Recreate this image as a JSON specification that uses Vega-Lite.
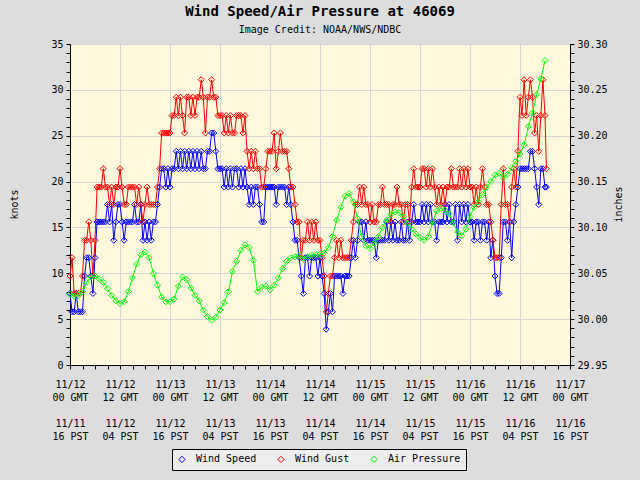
{
  "$schema": "https://vega.github.io/schema/vega-lite/v6.json",
  "width": 640,
  "height": 480,
  "autosize": {"type": "fit", "contains": "padding"},
  "padding": {"left": 9, "top": 5, "right": 17, "bottom": 39},
  "background": "#dddddd",
  "title": {
    "text": "Wind Speed/Air Pressure at 46069",
    "subtitle": "Image Credit: NOAA/NWS/NDBC",
    "anchor": "middle",
    "font": "DejaVu Sans Mono",
    "fontSize": 14,
    "fontWeight": "bold",
    "color": "black",
    "subtitleFont": "DejaVu Sans Mono",
    "subtitleFontSize": 10,
    "subtitleColor": "black",
    "subtitlePadding": 6,
    "offset": 4
  },
  "config": {
    "view": {"fill": "#fff8dc", "stroke": "black", "strokeWidth": 1},
    "axis": {
      "labelFont": "DejaVu Sans Mono",
      "labelFontSize": 10,
      "labelColor": "black",
      "titleFont": "DejaVu Sans Mono",
      "titleFontSize": 10,
      "titleFontWeight": "normal",
      "titleColor": "black",
      "tickColor": "black",
      "domainColor": "black",
      "gridColor": "#d6d6d6"
    },
    "legend": {
      "labelFont": "DejaVu Sans Mono",
      "labelFontSize": 10,
      "labelColor": "black"
    }
  },
  "datasets": {
    "wind": [
      {"t":"2024-11-12T00:00Z","Wind Speed":7.8,"Wind Gust":9.7},
      {"t":"2024-11-12T00:30Z","Wind Speed":5.8,"Wind Gust":11.7},
      {"t":"2024-11-12T01:00Z","Wind Speed":5.8,"Wind Gust":7.8},
      {"t":"2024-11-12T01:30Z","Wind Speed":7.8,"Wind Gust":7.8},
      {"t":"2024-11-12T02:00Z","Wind Speed":5.8,"Wind Gust":7.8},
      {"t":"2024-11-12T02:30Z","Wind Speed":5.8,"Wind Gust":7.8},
      {"t":"2024-11-12T03:00Z","Wind Speed":5.8,"Wind Gust":9.7},
      {"t":"2024-11-12T03:30Z","Wind Speed":9.7,"Wind Gust":13.6},
      {"t":"2024-11-12T04:00Z","Wind Speed":11.7,"Wind Gust":13.6},
      {"t":"2024-11-12T04:30Z","Wind Speed":11.7,"Wind Gust":15.6},
      {"t":"2024-11-12T05:00Z","Wind Speed":9.7,"Wind Gust":13.6},
      {"t":"2024-11-12T05:30Z","Wind Speed":7.8,"Wind Gust":9.7},
      {"t":"2024-11-12T06:00Z","Wind Speed":11.7,"Wind Gust":13.6},
      {"t":"2024-11-12T06:30Z","Wind Speed":15.6,"Wind Gust":19.4},
      {"t":"2024-11-12T07:00Z","Wind Speed":15.6,"Wind Gust":19.4},
      {"t":"2024-11-12T07:30Z","Wind Speed":15.6,"Wind Gust":19.4},
      {"t":"2024-11-12T08:00Z","Wind Speed":15.6,"Wind Gust":21.4},
      {"t":"2024-11-12T08:30Z","Wind Speed":15.6,"Wind Gust":19.4},
      {"t":"2024-11-12T09:00Z","Wind Speed":17.5,"Wind Gust":19.4},
      {"t":"2024-11-12T09:30Z","Wind Speed":15.6,"Wind Gust":17.5},
      {"t":"2024-11-12T10:00Z","Wind Speed":17.5,"Wind Gust":19.4},
      {"t":"2024-11-12T10:30Z","Wind Speed":13.6,"Wind Gust":17.5},
      {"t":"2024-11-12T11:00Z","Wind Speed":15.6,"Wind Gust":19.4},
      {"t":"2024-11-12T11:30Z","Wind Speed":17.5,"Wind Gust":19.4},
      {"t":"2024-11-12T12:00Z","Wind Speed":17.5,"Wind Gust":21.4},
      {"t":"2024-11-12T12:30Z","Wind Speed":15.6,"Wind Gust":19.4},
      {"t":"2024-11-12T13:00Z","Wind Speed":13.6,"Wind Gust":17.5},
      {"t":"2024-11-12T13:30Z","Wind Speed":15.6,"Wind Gust":17.5},
      {"t":"2024-11-12T14:00Z","Wind Speed":15.6,"Wind Gust":19.4},
      {"t":"2024-11-12T14:30Z","Wind Speed":15.6,"Wind Gust":19.4},
      {"t":"2024-11-12T15:00Z","Wind Speed":15.6,"Wind Gust":19.4},
      {"t":"2024-11-12T15:30Z","Wind Speed":17.5,"Wind Gust":19.4},
      {"t":"2024-11-12T16:00Z","Wind Speed":15.6,"Wind Gust":17.5},
      {"t":"2024-11-12T16:30Z","Wind Speed":15.6,"Wind Gust":19.4},
      {"t":"2024-11-12T17:00Z","Wind Speed":17.5,"Wind Gust":17.5},
      {"t":"2024-11-12T17:30Z","Wind Speed":13.6,"Wind Gust":15.6},
      {"t":"2024-11-12T18:00Z","Wind Speed":15.6,"Wind Gust":17.5},
      {"t":"2024-11-12T18:30Z","Wind Speed":13.6,"Wind Gust":19.4},
      {"t":"2024-11-12T19:00Z","Wind Speed":15.6,"Wind Gust":17.5},
      {"t":"2024-11-12T19:30Z","Wind Speed":13.6,"Wind Gust":17.5},
      {"t":"2024-11-12T20:00Z","Wind Speed":15.6,"Wind Gust":17.5},
      {"t":"2024-11-12T20:30Z","Wind Speed":15.6,"Wind Gust":17.5},
      {"t":"2024-11-12T21:00Z","Wind Speed":17.5,"Wind Gust":19.4},
      {"t":"2024-11-12T21:30Z","Wind Speed":19.4,"Wind Gust":21.4},
      {"t":"2024-11-12T22:00Z","Wind Speed":21.4,"Wind Gust":25.3},
      {"t":"2024-11-12T22:30Z","Wind Speed":21.4,"Wind Gust":25.3},
      {"t":"2024-11-12T23:00Z","Wind Speed":19.4,"Wind Gust":25.3},
      {"t":"2024-11-12T23:30Z","Wind Speed":21.4,"Wind Gust":25.3},
      {"t":"2024-11-13T00:00Z","Wind Speed":19.4,"Wind Gust":25.3},
      {"t":"2024-11-13T00:30Z","Wind Speed":21.4,"Wind Gust":27.2},
      {"t":"2024-11-13T01:00Z","Wind Speed":21.4,"Wind Gust":27.2},
      {"t":"2024-11-13T01:30Z","Wind Speed":23.3,"Wind Gust":29.2},
      {"t":"2024-11-13T02:00Z","Wind Speed":21.4,"Wind Gust":27.2},
      {"t":"2024-11-13T02:30Z","Wind Speed":23.3,"Wind Gust":29.2},
      {"t":"2024-11-13T03:00Z","Wind Speed":21.4,"Wind Gust":27.2},
      {"t":"2024-11-13T03:30Z","Wind Speed":23.3,"Wind Gust":25.3},
      {"t":"2024-11-13T04:00Z","Wind Speed":21.4,"Wind Gust":29.2},
      {"t":"2024-11-13T04:30Z","Wind Speed":23.3,"Wind Gust":29.2},
      {"t":"2024-11-13T05:00Z","Wind Speed":21.4,"Wind Gust":27.2},
      {"t":"2024-11-13T05:30Z","Wind Speed":23.3,"Wind Gust":29.2},
      {"t":"2024-11-13T06:00Z","Wind Speed":21.4,"Wind Gust":27.2},
      {"t":"2024-11-13T06:30Z","Wind Speed":23.3,"Wind Gust":29.2},
      {"t":"2024-11-13T07:00Z","Wind Speed":21.4,"Wind Gust":29.2},
      {"t":"2024-11-13T07:30Z","Wind Speed":23.3,"Wind Gust":31.1},
      {"t":"2024-11-13T08:00Z","Wind Speed":21.4,"Wind Gust":29.2},
      {"t":"2024-11-13T08:30Z","Wind Speed":21.4,"Wind Gust":25.3},
      {"t":"2024-11-13T09:00Z","Wind Speed":23.3,"Wind Gust":29.2},
      {"t":"2024-11-13T09:30Z","Wind Speed":23.3,"Wind Gust":29.2},
      {"t":"2024-11-13T10:00Z","Wind Speed":25.3,"Wind Gust":31.1},
      {"t":"2024-11-13T10:30Z","Wind Speed":25.3,"Wind Gust":29.2},
      {"t":"2024-11-13T11:00Z","Wind Speed":23.3,"Wind Gust":29.2},
      {"t":"2024-11-13T11:30Z","Wind Speed":21.4,"Wind Gust":27.2},
      {"t":"2024-11-13T12:00Z","Wind Speed":21.4,"Wind Gust":27.2},
      {"t":"2024-11-13T12:30Z","Wind Speed":21.4,"Wind Gust":27.2},
      {"t":"2024-11-13T13:00Z","Wind Speed":19.4,"Wind Gust":25.3},
      {"t":"2024-11-13T13:30Z","Wind Speed":21.4,"Wind Gust":27.2},
      {"t":"2024-11-13T14:00Z","Wind Speed":19.4,"Wind Gust":25.3},
      {"t":"2024-11-13T14:30Z","Wind Speed":21.4,"Wind Gust":27.2},
      {"t":"2024-11-13T15:00Z","Wind Speed":19.4,"Wind Gust":25.3},
      {"t":"2024-11-13T15:30Z","Wind Speed":21.4,"Wind Gust":25.3},
      {"t":"2024-11-13T16:00Z","Wind Speed":21.4,"Wind Gust":27.2},
      {"t":"2024-11-13T16:30Z","Wind Speed":19.4,"Wind Gust":27.2},
      {"t":"2024-11-13T17:00Z","Wind Speed":21.4,"Wind Gust":27.2},
      {"t":"2024-11-13T17:30Z","Wind Speed":19.4,"Wind Gust":25.3},
      {"t":"2024-11-13T18:00Z","Wind Speed":21.4,"Wind Gust":27.2},
      {"t":"2024-11-13T18:30Z","Wind Speed":19.4,"Wind Gust":23.3},
      {"t":"2024-11-13T19:00Z","Wind Speed":17.5,"Wind Gust":21.4},
      {"t":"2024-11-13T19:30Z","Wind Speed":19.4,"Wind Gust":23.3},
      {"t":"2024-11-13T20:00Z","Wind Speed":17.5,"Wind Gust":21.4},
      {"t":"2024-11-13T20:30Z","Wind Speed":19.4,"Wind Gust":23.3},
      {"t":"2024-11-13T21:00Z","Wind Speed":19.4,"Wind Gust":21.4},
      {"t":"2024-11-13T21:30Z","Wind Speed":17.5,"Wind Gust":21.4},
      {"t":"2024-11-13T22:00Z","Wind Speed":15.6,"Wind Gust":19.4},
      {"t":"2024-11-13T22:30Z","Wind Speed":15.6,"Wind Gust":19.4},
      {"t":"2024-11-13T23:00Z","Wind Speed":19.4,"Wind Gust":21.4},
      {"t":"2024-11-13T23:30Z","Wind Speed":19.4,"Wind Gust":23.3},
      {"t":"2024-11-14T00:00Z","Wind Speed":19.4,"Wind Gust":23.3},
      {"t":"2024-11-14T00:30Z","Wind Speed":19.4,"Wind Gust":23.3},
      {"t":"2024-11-14T01:00Z","Wind Speed":19.4,"Wind Gust":25.3},
      {"t":"2024-11-14T01:30Z","Wind Speed":17.5,"Wind Gust":21.4},
      {"t":"2024-11-14T02:00Z","Wind Speed":19.4,"Wind Gust":23.3},
      {"t":"2024-11-14T02:30Z","Wind Speed":19.4,"Wind Gust":25.3},
      {"t":"2024-11-14T03:00Z","Wind Speed":19.4,"Wind Gust":23.3},
      {"t":"2024-11-14T03:30Z","Wind Speed":19.4,"Wind Gust":23.3},
      {"t":"2024-11-14T04:00Z","Wind Speed":17.5,"Wind Gust":23.3},
      {"t":"2024-11-14T04:30Z","Wind Speed":19.4,"Wind Gust":21.4},
      {"t":"2024-11-14T05:00Z","Wind Speed":17.5,"Wind Gust":19.4},
      {"t":"2024-11-14T05:30Z","Wind Speed":15.6,"Wind Gust":19.4},
      {"t":"2024-11-14T06:00Z","Wind Speed":13.6,"Wind Gust":17.5},
      {"t":"2024-11-14T06:30Z","Wind Speed":13.6,"Wind Gust":15.6},
      {"t":"2024-11-14T07:00Z","Wind Speed":11.7,"Wind Gust":15.6},
      {"t":"2024-11-14T07:30Z","Wind Speed":9.7,"Wind Gust":11.7},
      {"t":"2024-11-14T08:00Z","Wind Speed":7.8,"Wind Gust":13.6},
      {"t":"2024-11-14T08:30Z","Wind Speed":11.7,"Wind Gust":13.6},
      {"t":"2024-11-14T09:00Z","Wind Speed":11.7,"Wind Gust":15.6},
      {"t":"2024-11-14T09:30Z","Wind Speed":9.7,"Wind Gust":13.6},
      {"t":"2024-11-14T10:00Z","Wind Speed":11.7,"Wind Gust":15.6},
      {"t":"2024-11-14T10:30Z","Wind Speed":11.7,"Wind Gust":13.6},
      {"t":"2024-11-14T11:00Z","Wind Speed":11.7,"Wind Gust":15.6},
      {"t":"2024-11-14T11:30Z","Wind Speed":9.7,"Wind Gust":13.6},
      {"t":"2024-11-14T12:00Z","Wind Speed":11.7,"Wind Gust":13.6},
      {"t":"2024-11-14T12:30Z","Wind Speed":9.7,"Wind Gust":11.7},
      {"t":"2024-11-14T13:00Z","Wind Speed":7.8,"Wind Gust":9.7},
      {"t":"2024-11-14T13:30Z","Wind Speed":3.9,"Wind Gust":5.8},
      {"t":"2024-11-14T14:00Z","Wind Speed":5.8,"Wind Gust":7.8},
      {"t":"2024-11-14T14:30Z","Wind Speed":7.8,"Wind Gust":9.7},
      {"t":"2024-11-14T15:00Z","Wind Speed":5.8,"Wind Gust":9.7},
      {"t":"2024-11-14T15:30Z","Wind Speed":9.7,"Wind Gust":11.7},
      {"t":"2024-11-14T16:00Z","Wind Speed":9.7,"Wind Gust":13.6},
      {"t":"2024-11-14T16:30Z","Wind Speed":9.7,"Wind Gust":11.7},
      {"t":"2024-11-14T17:00Z","Wind Speed":9.7,"Wind Gust":13.6},
      {"t":"2024-11-14T17:30Z","Wind Speed":7.8,"Wind Gust":11.7},
      {"t":"2024-11-14T18:00Z","Wind Speed":9.7,"Wind Gust":11.7},
      {"t":"2024-11-14T18:30Z","Wind Speed":9.7,"Wind Gust":11.7},
      {"t":"2024-11-14T19:00Z","Wind Speed":9.7,"Wind Gust":11.7},
      {"t":"2024-11-14T19:30Z","Wind Speed":11.7,"Wind Gust":13.6},
      {"t":"2024-11-14T20:00Z","Wind Speed":13.6,"Wind Gust":15.6},
      {"t":"2024-11-14T20:30Z","Wind Speed":11.7,"Wind Gust":17.5},
      {"t":"2024-11-14T21:00Z","Wind Speed":13.6,"Wind Gust":17.5},
      {"t":"2024-11-14T21:30Z","Wind Speed":15.6,"Wind Gust":19.4},
      {"t":"2024-11-14T22:00Z","Wind Speed":15.6,"Wind Gust":17.5},
      {"t":"2024-11-14T22:30Z","Wind Speed":13.6,"Wind Gust":19.4},
      {"t":"2024-11-14T23:00Z","Wind Speed":15.6,"Wind Gust":17.5},
      {"t":"2024-11-14T23:30Z","Wind Speed":13.6,"Wind Gust":17.5},
      {"t":"2024-11-15T00:00Z","Wind Speed":13.6,"Wind Gust":15.6},
      {"t":"2024-11-15T00:30Z","Wind Speed":13.6,"Wind Gust":17.5},
      {"t":"2024-11-15T01:00Z","Wind Speed":13.6,"Wind Gust":15.6},
      {"t":"2024-11-15T01:30Z","Wind Speed":11.7,"Wind Gust":15.6},
      {"t":"2024-11-15T02:00Z","Wind Speed":13.6,"Wind Gust":17.5},
      {"t":"2024-11-15T02:30Z","Wind Speed":13.6,"Wind Gust":17.5},
      {"t":"2024-11-15T03:00Z","Wind Speed":13.6,"Wind Gust":19.4},
      {"t":"2024-11-15T03:30Z","Wind Speed":13.6,"Wind Gust":17.5},
      {"t":"2024-11-15T04:00Z","Wind Speed":15.6,"Wind Gust":17.5},
      {"t":"2024-11-15T04:30Z","Wind Speed":13.6,"Wind Gust":17.5},
      {"t":"2024-11-15T05:00Z","Wind Speed":15.6,"Wind Gust":15.6},
      {"t":"2024-11-15T05:30Z","Wind Speed":13.6,"Wind Gust":17.5},
      {"t":"2024-11-15T06:00Z","Wind Speed":15.6,"Wind Gust":17.5},
      {"t":"2024-11-15T06:30Z","Wind Speed":13.6,"Wind Gust":19.4},
      {"t":"2024-11-15T07:00Z","Wind Speed":13.6,"Wind Gust":17.5},
      {"t":"2024-11-15T07:30Z","Wind Speed":15.6,"Wind Gust":17.5},
      {"t":"2024-11-15T08:00Z","Wind Speed":13.6,"Wind Gust":15.6},
      {"t":"2024-11-15T08:30Z","Wind Speed":13.6,"Wind Gust":17.5},
      {"t":"2024-11-15T09:00Z","Wind Speed":15.6,"Wind Gust":17.5},
      {"t":"2024-11-15T09:30Z","Wind Speed":13.6,"Wind Gust":15.6},
      {"t":"2024-11-15T10:00Z","Wind Speed":15.6,"Wind Gust":19.4},
      {"t":"2024-11-15T10:30Z","Wind Speed":17.5,"Wind Gust":21.4},
      {"t":"2024-11-15T11:00Z","Wind Speed":15.6,"Wind Gust":19.4},
      {"t":"2024-11-15T11:30Z","Wind Speed":15.6,"Wind Gust":19.4},
      {"t":"2024-11-15T12:00Z","Wind Speed":15.6,"Wind Gust":19.4},
      {"t":"2024-11-15T12:30Z","Wind Speed":17.5,"Wind Gust":21.4},
      {"t":"2024-11-15T13:00Z","Wind Speed":15.6,"Wind Gust":21.4},
      {"t":"2024-11-15T13:30Z","Wind Speed":17.5,"Wind Gust":19.4},
      {"t":"2024-11-15T14:00Z","Wind Speed":15.6,"Wind Gust":21.4},
      {"t":"2024-11-15T14:30Z","Wind Speed":17.5,"Wind Gust":19.4},
      {"t":"2024-11-15T15:00Z","Wind Speed":15.6,"Wind Gust":21.4},
      {"t":"2024-11-15T15:30Z","Wind Speed":15.6,"Wind Gust":19.4},
      {"t":"2024-11-15T16:00Z","Wind Speed":13.6,"Wind Gust":17.5},
      {"t":"2024-11-15T16:30Z","Wind Speed":15.6,"Wind Gust":19.4},
      {"t":"2024-11-15T17:00Z","Wind Speed":15.6,"Wind Gust":17.5},
      {"t":"2024-11-15T17:30Z","Wind Speed":15.6,"Wind Gust":19.4},
      {"t":"2024-11-15T18:00Z","Wind Speed":17.5,"Wind Gust":17.5},
      {"t":"2024-11-15T18:30Z","Wind Speed":15.6,"Wind Gust":19.4},
      {"t":"2024-11-15T19:00Z","Wind Speed":17.5,"Wind Gust":19.4},
      {"t":"2024-11-15T19:30Z","Wind Speed":15.6,"Wind Gust":21.4},
      {"t":"2024-11-15T20:00Z","Wind Speed":15.6,"Wind Gust":19.4},
      {"t":"2024-11-15T20:30Z","Wind Speed":17.5,"Wind Gust":19.4},
      {"t":"2024-11-15T21:00Z","Wind Speed":13.6,"Wind Gust":19.4},
      {"t":"2024-11-15T21:30Z","Wind Speed":17.5,"Wind Gust":21.4},
      {"t":"2024-11-15T22:00Z","Wind Speed":15.6,"Wind Gust":19.4},
      {"t":"2024-11-15T22:30Z","Wind Speed":17.5,"Wind Gust":21.4},
      {"t":"2024-11-15T23:00Z","Wind Speed":15.6,"Wind Gust":19.4},
      {"t":"2024-11-15T23:30Z","Wind Speed":17.5,"Wind Gust":21.4},
      {"t":"2024-11-16T00:00Z","Wind Speed":15.6,"Wind Gust":19.4},
      {"t":"2024-11-16T00:30Z","Wind Speed":15.6,"Wind Gust":19.4},
      {"t":"2024-11-16T01:00Z","Wind Speed":13.6,"Wind Gust":17.5},
      {"t":"2024-11-16T01:30Z","Wind Speed":15.6,"Wind Gust":19.4},
      {"t":"2024-11-16T02:00Z","Wind Speed":15.6,"Wind Gust":17.5},
      {"t":"2024-11-16T02:30Z","Wind Speed":13.6,"Wind Gust":19.4},
      {"t":"2024-11-16T03:00Z","Wind Speed":15.6,"Wind Gust":21.4},
      {"t":"2024-11-16T03:30Z","Wind Speed":15.6,"Wind Gust":19.4},
      {"t":"2024-11-16T04:00Z","Wind Speed":13.6,"Wind Gust":17.5},
      {"t":"2024-11-16T04:30Z","Wind Speed":15.6,"Wind Gust":17.5},
      {"t":"2024-11-16T05:00Z","Wind Speed":11.7,"Wind Gust":15.6},
      {"t":"2024-11-16T05:30Z","Wind Speed":13.6,"Wind Gust":13.6},
      {"t":"2024-11-16T06:00Z","Wind Speed":9.7,"Wind Gust":11.7},
      {"t":"2024-11-16T06:30Z","Wind Speed":7.8,"Wind Gust":11.7},
      {"t":"2024-11-16T07:00Z","Wind Speed":7.8,"Wind Gust":11.7},
      {"t":"2024-11-16T07:30Z","Wind Speed":11.7,"Wind Gust":17.5},
      {"t":"2024-11-16T08:00Z","Wind Speed":15.6,"Wind Gust":21.4},
      {"t":"2024-11-16T08:30Z","Wind Speed":15.6,"Wind Gust":17.5},
      {"t":"2024-11-16T09:00Z","Wind Speed":13.6,"Wind Gust":17.5},
      {"t":"2024-11-16T09:30Z","Wind Speed":15.6,"Wind Gust":15.6},
      {"t":"2024-11-16T10:00Z","Wind Speed":11.7,"Wind Gust":19.4},
      {"t":"2024-11-16T10:30Z","Wind Speed":15.6,"Wind Gust":21.4},
      {"t":"2024-11-16T11:00Z","Wind Speed":17.5,"Wind Gust":19.4},
      {"t":"2024-11-16T11:30Z","Wind Speed":19.4,"Wind Gust":23.3},
      {"t":"2024-11-16T12:00Z","Wind Speed":21.4,"Wind Gust":29.2},
      {"t":"2024-11-16T12:30Z","Wind Speed":21.4,"Wind Gust":27.2},
      {"t":"2024-11-16T13:00Z","Wind Speed":21.4,"Wind Gust":31.1},
      {"t":"2024-11-16T13:30Z","Wind Speed":21.4,"Wind Gust":27.2},
      {"t":"2024-11-16T14:00Z","Wind Speed":21.4,"Wind Gust":29.2},
      {"t":"2024-11-16T14:30Z","Wind Speed":23.3,"Wind Gust":31.1},
      {"t":"2024-11-16T15:00Z","Wind Speed":23.3,"Wind Gust":29.2},
      {"t":"2024-11-16T15:30Z","Wind Speed":21.4,"Wind Gust":25.3},
      {"t":"2024-11-16T16:00Z","Wind Speed":19.4,"Wind Gust":27.2},
      {"t":"2024-11-16T16:30Z","Wind Speed":17.5,"Wind Gust":23.3},
      {"t":"2024-11-16T17:00Z","Wind Speed":21.4,"Wind Gust":27.2},
      {"t":"2024-11-16T17:30Z","Wind Speed":21.4,"Wind Gust":31.1},
      {"t":"2024-11-16T18:00Z","Wind Speed":19.4,"Wind Gust":27.2},
      {"t":"2024-11-16T18:20Z","Wind Speed":19.4,"Wind Gust":21.4}
    ],
    "pres": [
      {"t":"2024-11-12T00:00Z","Air Pressure":30.027},
      {"t":"2024-11-12T01:00Z","Air Pressure":30.025},
      {"t":"2024-11-12T02:00Z","Air Pressure":30.026},
      {"t":"2024-11-12T03:00Z","Air Pressure":30.030},
      {"t":"2024-11-12T04:00Z","Air Pressure":30.040},
      {"t":"2024-11-12T05:00Z","Air Pressure":30.046},
      {"t":"2024-11-12T06:00Z","Air Pressure":30.047},
      {"t":"2024-11-12T07:00Z","Air Pressure":30.044},
      {"t":"2024-11-12T08:00Z","Air Pressure":30.040},
      {"t":"2024-11-12T09:00Z","Air Pressure":30.033},
      {"t":"2024-11-12T10:00Z","Air Pressure":30.026},
      {"t":"2024-11-12T11:00Z","Air Pressure":30.020},
      {"t":"2024-11-12T12:00Z","Air Pressure":30.017},
      {"t":"2024-11-12T13:00Z","Air Pressure":30.019},
      {"t":"2024-11-12T14:00Z","Air Pressure":30.030},
      {"t":"2024-11-12T15:00Z","Air Pressure":30.045},
      {"t":"2024-11-12T16:00Z","Air Pressure":30.060},
      {"t":"2024-11-12T17:00Z","Air Pressure":30.070},
      {"t":"2024-11-12T18:00Z","Air Pressure":30.073},
      {"t":"2024-11-12T19:00Z","Air Pressure":30.067},
      {"t":"2024-11-12T20:00Z","Air Pressure":30.050},
      {"t":"2024-11-12T21:00Z","Air Pressure":30.037},
      {"t":"2024-11-12T22:00Z","Air Pressure":30.024},
      {"t":"2024-11-12T23:00Z","Air Pressure":30.019},
      {"t":"2024-11-13T00:00Z","Air Pressure":30.019},
      {"t":"2024-11-13T01:00Z","Air Pressure":30.022},
      {"t":"2024-11-13T02:00Z","Air Pressure":30.036},
      {"t":"2024-11-13T03:00Z","Air Pressure":30.046},
      {"t":"2024-11-13T04:00Z","Air Pressure":30.043},
      {"t":"2024-11-13T05:00Z","Air Pressure":30.034},
      {"t":"2024-11-13T06:00Z","Air Pressure":30.026},
      {"t":"2024-11-13T07:00Z","Air Pressure":30.020},
      {"t":"2024-11-13T08:00Z","Air Pressure":30.010},
      {"t":"2024-11-13T09:00Z","Air Pressure":30.003},
      {"t":"2024-11-13T10:00Z","Air Pressure":29.999},
      {"t":"2024-11-13T11:00Z","Air Pressure":30.002},
      {"t":"2024-11-13T12:00Z","Air Pressure":30.010},
      {"t":"2024-11-13T13:00Z","Air Pressure":30.018},
      {"t":"2024-11-13T14:00Z","Air Pressure":30.030},
      {"t":"2024-11-13T15:00Z","Air Pressure":30.052},
      {"t":"2024-11-13T16:00Z","Air Pressure":30.063},
      {"t":"2024-11-13T17:00Z","Air Pressure":30.075},
      {"t":"2024-11-13T18:00Z","Air Pressure":30.081},
      {"t":"2024-11-13T19:00Z","Air Pressure":30.078},
      {"t":"2024-11-13T20:00Z","Air Pressure":30.064},
      {"t":"2024-11-13T21:00Z","Air Pressure":30.030},
      {"t":"2024-11-13T22:00Z","Air Pressure":30.035},
      {"t":"2024-11-13T23:00Z","Air Pressure":30.036},
      {"t":"2024-11-14T00:00Z","Air Pressure":30.032},
      {"t":"2024-11-14T01:00Z","Air Pressure":30.037},
      {"t":"2024-11-14T02:00Z","Air Pressure":30.045},
      {"t":"2024-11-14T03:00Z","Air Pressure":30.055},
      {"t":"2024-11-14T04:00Z","Air Pressure":30.063},
      {"t":"2024-11-14T05:00Z","Air Pressure":30.067},
      {"t":"2024-11-14T06:00Z","Air Pressure":30.068},
      {"t":"2024-11-14T07:00Z","Air Pressure":30.070},
      {"t":"2024-11-14T08:00Z","Air Pressure":30.066},
      {"t":"2024-11-14T09:00Z","Air Pressure":30.068},
      {"t":"2024-11-14T10:00Z","Air Pressure":30.070},
      {"t":"2024-11-14T11:00Z","Air Pressure":30.070},
      {"t":"2024-11-14T12:00Z","Air Pressure":30.071},
      {"t":"2024-11-14T13:00Z","Air Pressure":30.072},
      {"t":"2024-11-14T14:00Z","Air Pressure":30.078},
      {"t":"2024-11-14T15:00Z","Air Pressure":30.090},
      {"t":"2024-11-14T16:00Z","Air Pressure":30.108},
      {"t":"2024-11-14T17:00Z","Air Pressure":30.122},
      {"t":"2024-11-14T18:00Z","Air Pressure":30.134},
      {"t":"2024-11-14T19:00Z","Air Pressure":30.137},
      {"t":"2024-11-14T20:00Z","Air Pressure":30.128},
      {"t":"2024-11-14T21:00Z","Air Pressure":30.110},
      {"t":"2024-11-14T22:00Z","Air Pressure":30.090},
      {"t":"2024-11-14T23:00Z","Air Pressure":30.080},
      {"t":"2024-11-15T00:00Z","Air Pressure":30.077},
      {"t":"2024-11-15T01:00Z","Air Pressure":30.083},
      {"t":"2024-11-15T02:00Z","Air Pressure":30.090},
      {"t":"2024-11-15T03:00Z","Air Pressure":30.100},
      {"t":"2024-11-15T04:00Z","Air Pressure":30.108},
      {"t":"2024-11-15T05:00Z","Air Pressure":30.114},
      {"t":"2024-11-15T06:00Z","Air Pressure":30.117},
      {"t":"2024-11-15T07:00Z","Air Pressure":30.116},
      {"t":"2024-11-15T08:00Z","Air Pressure":30.112},
      {"t":"2024-11-15T09:00Z","Air Pressure":30.104},
      {"t":"2024-11-15T10:00Z","Air Pressure":30.098},
      {"t":"2024-11-15T11:00Z","Air Pressure":30.093},
      {"t":"2024-11-15T12:00Z","Air Pressure":30.089},
      {"t":"2024-11-15T13:00Z","Air Pressure":30.086},
      {"t":"2024-11-15T14:00Z","Air Pressure":30.090},
      {"t":"2024-11-15T15:00Z","Air Pressure":30.105},
      {"t":"2024-11-15T16:00Z","Air Pressure":30.118},
      {"t":"2024-11-15T17:00Z","Air Pressure":30.121},
      {"t":"2024-11-15T18:00Z","Air Pressure":30.119},
      {"t":"2024-11-15T19:00Z","Air Pressure":30.115},
      {"t":"2024-11-15T20:00Z","Air Pressure":30.105},
      {"t":"2024-11-15T21:00Z","Air Pressure":30.095},
      {"t":"2024-11-15T22:00Z","Air Pressure":30.091},
      {"t":"2024-11-15T23:00Z","Air Pressure":30.098},
      {"t":"2024-11-16T00:00Z","Air Pressure":30.112},
      {"t":"2024-11-16T01:00Z","Air Pressure":30.122},
      {"t":"2024-11-16T02:00Z","Air Pressure":30.128},
      {"t":"2024-11-16T03:00Z","Air Pressure":30.136},
      {"t":"2024-11-16T04:00Z","Air Pressure":30.144},
      {"t":"2024-11-16T05:00Z","Air Pressure":30.150},
      {"t":"2024-11-16T06:00Z","Air Pressure":30.157},
      {"t":"2024-11-16T07:00Z","Air Pressure":30.159},
      {"t":"2024-11-16T08:00Z","Air Pressure":30.154},
      {"t":"2024-11-16T09:00Z","Air Pressure":30.158},
      {"t":"2024-11-16T10:00Z","Air Pressure":30.165},
      {"t":"2024-11-16T11:00Z","Air Pressure":30.172},
      {"t":"2024-11-16T12:00Z","Air Pressure":30.180},
      {"t":"2024-11-16T13:00Z","Air Pressure":30.190},
      {"t":"2024-11-16T14:00Z","Air Pressure":30.210},
      {"t":"2024-11-16T15:00Z","Air Pressure":30.225},
      {"t":"2024-11-16T16:00Z","Air Pressure":30.245},
      {"t":"2024-11-16T17:00Z","Air Pressure":30.262},
      {"t":"2024-11-16T18:00Z","Air Pressure":30.282}
    ]
  },
  "encoding": {
    "x": {
      "field": "t",
      "type": "temporal",
      "title": null,
      "scale": {
        "type": "utc",
        "domain": [
          {"year": 2024, "month": 11, "date": 12, "utc": true},
          {"year": 2024, "month": 11, "date": 17, "utc": true}
        ]
      },
      "axis": {
        "tickCount": 40,
        "labelExpr": "utchours(datum.value) % 12 === 0 ? [utcFormat(datum.value, '%m/%d'), utcFormat(datum.value, '%H GMT'), '\u200b', utcFormat(datum.value - 28800000, '%m/%d'), utcFormat(datum.value - 28800000, '%H PST')] : ''",
        "labelLineHeight": 13,
        "labelAlign": "center",
        "labelBaseline": "top",
        "labelPadding": 10,
        "labelOverlap": false,
        "labelFlush": false,
        "tickSize": 4,
        "gridOpacity": {"condition": {"test": "utchours(datum.value) % 12 === 0", "value": 1}, "value": 0}
      }
    },
    "color": {
      "field": "series",
      "type": "nominal",
      "scale": {
        "domain": ["Wind Speed", "Wind Gust", "Air Pressure"],
        "range": ["#0000ff", "#ff0000", "#00ff00"]
      },
      "legend": {
        "title": null,
        "orient": "none",
        "legendX": 102,
        "legendY": 405,
        "direction": "horizontal",
        "fillColor": "#eeeeee",
        "strokeColor": "black",
        "padding": 5,
        "columnPadding": 18,
        "labelOffset": 9,
        "symbolType": "diamond",
        "symbolSize": 40,
        "symbolStrokeWidth": 1
      }
    }
  },
  "layer": [
    {
      "data": {"name": "wind"},
      "transform": [{"fold": ["Wind Speed", "Wind Gust"], "as": ["series", "value"]}],
      "encoding": {
        "y": {
          "field": "value",
          "type": "quantitative",
          "title": "knots",
          "scale": {"domain": [0, 35], "nice": false, "zero": false},
          "axis": {
            "values": [0,1,2,3,4,5,6,7,8,9,10,11,12,13,14,15,16,17,18,19,20,21,22,23,24,25,26,27,28,29,30,31,32,33,34,35],
            "format": "d",
            "labelExpr": "datum.value % 5 === 0 ? datum.label : ''",
            "labelOverlap": false,
            "labelPadding": 3,
            "tickSize": 4,
            "gridOpacity": {"condition": {"test": "datum.value % 5 === 0", "value": 1}, "value": 0},
            "titleAngle": 270,
            "titleAlign": "center",
            "titleBaseline": "middle",
            "titleX": -56,
            "titleY": 160
          }
        }
      },
      "layer": [
        {"mark": {"type": "line", "strokeWidth": 1}},
        {"mark": {"type": "point", "shape": "diamond", "filled": false, "size": 36, "strokeWidth": 1, "opacity": 1}}
      ]
    },
    {
      "data": {"name": "pres"},
      "transform": [{"fold": ["Air Pressure"], "as": ["series", "value"]}],
      "encoding": {
        "y": {
          "field": "value",
          "type": "quantitative",
          "title": "inches",
          "scale": {"domain": [29.95, 30.30], "nice": false, "zero": false},
          "axis": {
            "values": [29.95,29.96,29.97,29.98,29.99,30.00,30.01,30.02,30.03,30.04,30.05,30.06,30.07,30.08,30.09,30.10,30.11,30.12,30.13,30.14,30.15,30.16,30.17,30.18,30.19,30.20,30.21,30.22,30.23,30.24,30.25,30.26,30.27,30.28,30.29,30.30],
            "format": ".2f",
            "labelExpr": "round(datum.value * 100) % 5 === 0 ? datum.label : ''",
            "labelOverlap": false,
            "labelPadding": 3,
            "tickSize": 4,
            "grid": false,
            "titleAngle": 270,
            "titleAlign": "center",
            "titleBaseline": "middle",
            "titleX": 48,
            "titleY": 160
          }
        }
      },
      "layer": [
        {"mark": {"type": "line", "strokeWidth": 1}},
        {"mark": {"type": "point", "shape": "diamond", "filled": false, "size": 36, "strokeWidth": 1, "opacity": 1}}
      ]
    }
  ],
  "resolve": {"scale": {"y": "independent"}}
}
